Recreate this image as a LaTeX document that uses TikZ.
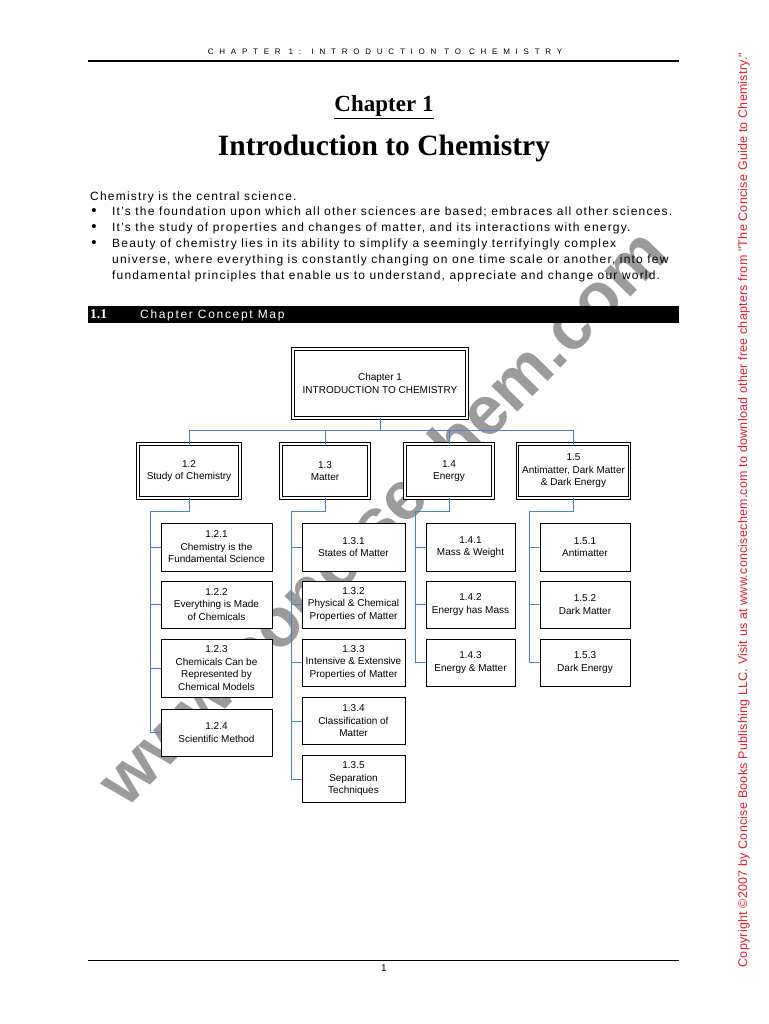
\documentclass[tikz,border=0pt]{standalone}
\usepackage{fontspec}
\setmainfont{Liberation Serif}
\setsansfont{Liberation Sans}
\newfontfamily\arial{Liberation Sans}
\newfontfamily\arialsp[LetterSpace=10]{Liberation Sans}
\newfontfamily\arialbar[LetterSpace=14]{Liberation Sans}
\newfontfamily\arialhdr[LetterSpace=72]{Liberation Sans}
\newfontfamily\arialred[LetterSpace=2]{Liberation Sans}
\definecolor{connblue}{RGB}{79,129,189}
\definecolor{wmgray}{RGB}{155,155,155}
\definecolor{copyred}{RGB}{225,35,45}
\begin{document}
\begin{tikzpicture}[x=1pt,y=-1pt,
  leaf/.style={draw=black, line width=0.8pt, fill=white, minimum height=47, inner sep=1pt, align=center, font=\arial\fontsize{10}{12.5}\selectfont},
  head/.style={draw=black, line width=0.9pt, double=white, double distance=1.6pt, fill=white, inner sep=1pt, align=center, font=\arial\fontsize{10}{12.5}\selectfont},
  conn/.style={draw=connblue, line width=0.9pt},
  body/.style={anchor=west, inner sep=0, font=\arialsp\fontsize{12}{14}\selectfont},
  bul/.style={anchor=center, inner sep=0, font=\arial\fontsize{15}{15}\selectfont}
]
\useasboundingbox (0,0) rectangle (768,1024);
\fill[white] (0,0) rectangle (768,1024);

% watermark
\node[rotate=45.5, text=wmgray, font=\arial\bfseries\fontsize{69}{69}\selectfont] (wm) at (381,516) {www.concisechem.com};

% header
\node[font=\arialhdr\fontsize{8}{9}\selectfont, inner sep=0] (hdr) at (385,52) {CHAPTER 1: INTRODUCTION TO CHEMISTRY};
\draw[line width=2pt] (88,61) -- (679,61);

% titles
\node[inner sep=0, font=\fontsize{23}{26}\selectfont\bfseries] (t1) at (384,107) {\underline{Chapter 1}};
\node[inner sep=0, font=\fontsize{29.5}{32}\selectfont\bfseries] (t2) at (384,148) {Introduction to Chemistry};

% body text
\node[body] (b0) at (90,197) {Chemistry is the central science.};
\node[bul] (u1) at (94,212) {•};
\node[body] (b1) at (112,212) {It’s the foundation upon which all other sciences are based; embraces all other sciences.};
\node[bul] (u2) at (94,228) {•};
\node[body] (b2) at (112,228) {It’s the study of properties and changes of matter, and its interactions with energy.};
\node[bul] (u3) at (94,244) {•};
\node[body] (b3) at (112,244) {Beauty of chemistry lies in its ability to simplify a seemingly terrifyingly complex};
\node[body] (b4) at (112,260) {universe, where everything is constantly changing on one time scale or another, into few};
\node[body] (b5) at (112,276) {fundamental principles that enable us to understand, appreciate and change our world.};

% section bar
\fill[black] (88,306) rectangle (679,323);
\node[anchor=west, inner sep=0, text=white, font=\fontsize{13.5}{15}\selectfont\bfseries] (s1) at (90,314.5) {1.1};
\node[anchor=west, inner sep=0, text=white, font=\arialbar\fontsize{12}{14}\selectfont] (s2) at (140,315) {Chapter Concept Map};

% concept map: top
\node[head, minimum width=174, minimum height=69] (top) at (380,383.5) {Chapter 1\\INTRODUCTION TO CHEMISTRY};
% level 2
\node[head, minimum width=102, minimum height=54] (n12) at (189,471) {1.2\\Study of Chemistry};
\node[head, minimum width=88, minimum height=54] (n13) at (325,471) {1.3\\Matter};
\node[head, minimum width=88, minimum height=54] (n14) at (449,471) {1.4\\Energy};
\node[head, minimum width=112, minimum height=54] (n15) at (573.5,471) {1.5\\Antimatter, Dark Matter\\\& Dark Energy};

% level 3
\node[leaf, minimum width=111, minimum height=48] (n121) at (216.5,547) {1.2.1\\Chemistry is the\\Fundamental Science};
\node[leaf, minimum width=111] (n122) at (216.5,604.5) {1.2.2\\Everything is Made\\of Chemicals};
\node[leaf, minimum width=111, minimum height=58] (n123) at (216.5,668) {1.2.3\\Chemicals Can be\\Represented by\\Chemical Models};
\node[leaf, minimum width=111] (n124) at (216.5,732.5) {1.2.4\\Scientific Method};

\node[leaf, minimum width=103, minimum height=48] (n131) at (353.5,547) {1.3.1\\States of Matter};
\node[leaf, minimum width=103] (n132) at (353.5,604.5) {1.3.2\\Physical \& Chemical\\Properties of Matter};
\node[leaf, minimum width=103] (n133) at (353.5,662.5) {1.3.3\\Intensive \& Extensive\\Properties of Matter};
\node[leaf, minimum width=103] (n134) at (353.5,721) {1.3.4\\Classification of\\Matter};
\node[leaf, minimum width=103] (n135) at (353.5,779) {1.3.5\\Separation\\Techniques};

\node[leaf, minimum width=89, minimum height=48] (n141) at (470.5,547) {1.4.1\\Mass \& Weight};
\node[leaf, minimum width=89] (n142) at (470.5,604.5) {1.4.2\\Energy has Mass};
\node[leaf, minimum width=89] (n143) at (470.5,662.5) {1.4.3\\Energy \& Matter};

\node[leaf, minimum width=90, minimum height=48] (n151) at (585,547) {1.5.1\\Antimatter};
\node[leaf, minimum width=90] (n152) at (585,604.5) {1.5.2\\Dark Matter};
\node[leaf, minimum width=90] (n153) at (585,662.5) {1.5.3\\Dark Energy};

% connectors top -> level 2
\coordinate (hub) at (380,430);
\draw[conn] (top.south) -- (top.south |- hub);
\draw[conn] (n12.north) -- (n12.north |- hub) -- (n15.north |- hub) -- (n15.north);
\draw[conn] (n13.north) -- (n13.north |- hub);
\draw[conn] (n14.north) -- (n14.north |- hub);

% columns
\coordinate (c12) at (150,511);
\coordinate (c13) at (291,511);
\coordinate (c14) at (415,511);
\coordinate (c15) at (529,511);
\draw[conn] (n12.south) -- (n12.south |- c12) -- (c12) -- (c12 |- n124.west) -- (n124.west);
\foreach \n in {n121,n122,n123} \draw[conn] (\n.west) -- (\n.west -| c12);
\draw[conn] (n13.south) -- (n13.south |- c13) -- (c13) -- (c13 |- n135.west) -- (n135.west);
\foreach \n in {n131,n132,n133,n134} \draw[conn] (\n.west) -- (\n.west -| c13);
\draw[conn] (n14.south) -- (n14.south |- c14) -- (c14) -- (c14 |- n143.west) -- (n143.west);
\foreach \n in {n141,n142} \draw[conn] (\n.west) -- (\n.west -| c14);
\draw[conn] (n15.south) -- (n15.south |- c15) -- (c15) -- (c15 |- n153.west) -- (n153.west);
\foreach \n in {n151,n152} \draw[conn] (\n.west) -- (\n.west -| c15);

% footer
\draw[line width=0.8pt] (88,960) -- (679,960);
\node[inner sep=0, font=\arial\fontsize{10}{12}\selectfont] (pg) at (384,968) {1};

% copyright
\node[rotate=90, inner sep=0, text=copyred, font=\arialred\fontsize{12.5}{14}\selectfont] (cp) at (744,510) {Copyright ©2007 by Concise Books Publishing LLC. Visit us at www.concisechem.com to download other free chapters from "The Concise Guide to Chemistry."};
\end{tikzpicture}
\end{document}
